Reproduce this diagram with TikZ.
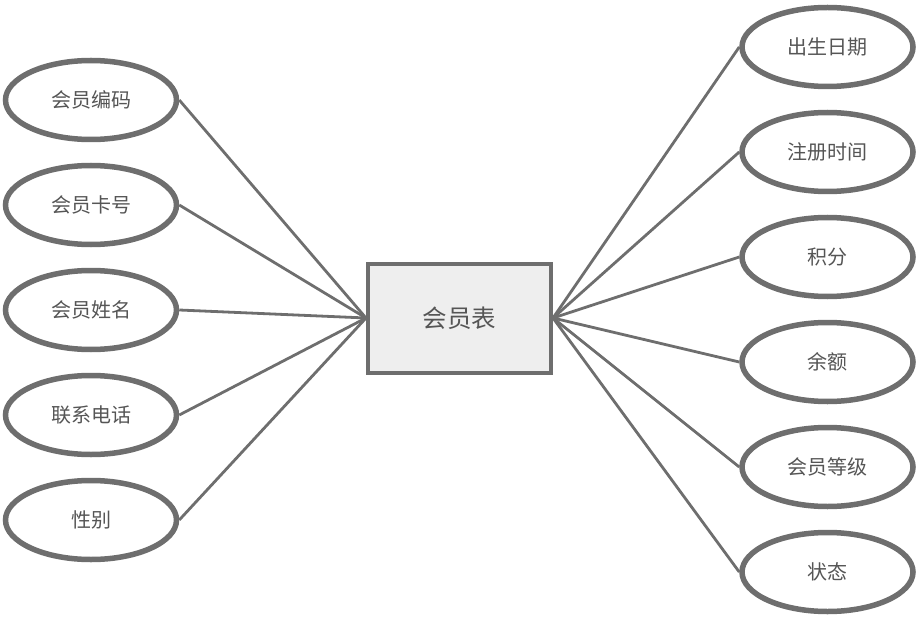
\documentclass[tikz,border=0pt]{standalone}
\usepackage{fontspec}
\newfontfamily\cjk{Noto Sans CJK SC}
\usetikzlibrary{shapes.geometric,backgrounds}
\definecolor{edgegray}{HTML}{6E6E6E}
\definecolor{txtgray}{HTML}{555555}
\definecolor{boxfill}{HTML}{EEEEEE}
\definecolor{glow}{HTML}{D6D6D6}
\begin{document}
\begin{tikzpicture}[x=1pt,y=-1pt,
  attr/.style={ellipse, draw=edgegray, line width=5.5pt, fill=white,
    minimum width=171pt, minimum height=79pt, inner sep=0pt,
    font=\cjk\fontsize{20}{22}\selectfont, text=txtgray,
    append after command={\pgfextra{\draw[glow, line width=1.6pt]
      (\tikzlastnode.center) ellipse [x radius=81.5pt, y radius=35.8pt];}}},
  entity/.style={rectangle, draw=edgegray, line width=4pt, fill=boxfill,
    minimum width=183pt, minimum height=109pt, inner sep=0pt,
    font=\cjk\fontsize{24.5}{27}\selectfont, text=txtgray},
  link/.style={edgegray, line width=2.8pt}]
\useasboundingbox (0,0) rectangle (917,636);
\node[entity] (E) at (459.5,318) {会员表};
\node[attr] (L1) at (91,100) {会员编码};
\node[attr] (L2) at (91,205) {会员卡号};
\node[attr] (L3) at (91,310) {会员姓名};
\node[attr] (L4) at (91,415) {联系电话};
\node[attr] (L5) at (91,520) {性别};
\node[attr] (R1) at (827.5,47) {出生日期};
\node[attr] (R2) at (827.5,152) {注册时间};
\node[attr] (R3) at (827.5,257) {积分};
\node[attr] (R4) at (827.5,362) {余额};
\node[attr] (R5) at (827.5,467) {会员等级};
\node[attr] (R6) at (827.5,572) {状态};
\begin{scope}[on background layer]
\foreach \n in {L1,L2,L3,L4,L5} \draw[link] (\n.east) -- (E.west);
\foreach \n in {R1,R2,R3,R4,R5,R6} \draw[link] (E.east) -- (\n.west);
\end{scope}
\end{tikzpicture}
\end{document}
